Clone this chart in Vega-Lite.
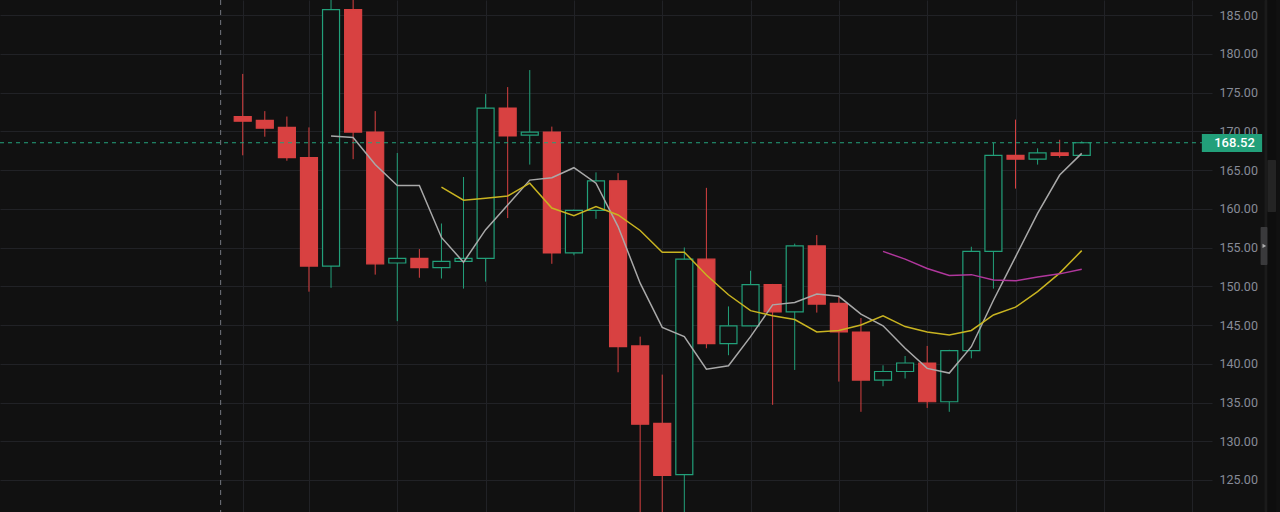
{
  "$schema": "https://vega.github.io/schema/vega-lite/v6.json",
  "width": 1212,
  "height": 512,
  "autosize": {"type": "none"},
  "padding": {"left": 0, "top": 0, "right": 68, "bottom": 0},
  "background": "#111111",
  "config": {"view": {"stroke": null}, "font": "Roboto"},
  "datasets": {
    "candles": [
      {"i": 1, "o": 171.9, "h": 177.4, "l": 166.9, "c": 171.3, "ma5": null, "ma10": null, "ma30": null},
      {"i": 2, "o": 171.4, "h": 172.6, "l": 169.3, "c": 170.4, "ma5": null, "ma10": null, "ma30": null},
      {"i": 3, "o": 170.5, "h": 171.9, "l": 166.2, "c": 166.6, "ma5": null, "ma10": null, "ma30": null},
      {"i": 4, "o": 166.6, "h": 170.5, "l": 149.3, "c": 152.6, "ma5": null, "ma10": null, "ma30": null},
      {"i": 5, "o": 152.6, "h": 188.0, "l": 149.8, "c": 185.7, "ma5": 169.4, "ma10": null, "ma30": null},
      {"i": 6, "o": 185.7, "h": 188.5, "l": 166.4, "c": 169.9, "ma5": 169.2, "ma10": null, "ma30": null},
      {"i": 7, "o": 169.9, "h": 172.6, "l": 151.5, "c": 152.9, "ma5": 165.7, "ma10": null, "ma30": null},
      {"i": 8, "o": 153.0, "h": 167.2, "l": 145.5, "c": 153.6, "ma5": 163.0, "ma10": null, "ma30": null},
      {"i": 9, "o": 153.6, "h": 154.8, "l": 151.1, "c": 152.4, "ma5": 163.0, "ma10": null, "ma30": null},
      {"i": 10, "o": 152.4, "h": 158.1, "l": 151.0, "c": 153.2, "ma5": 156.3, "ma10": 162.8, "ma30": null},
      {"i": 11, "o": 153.2, "h": 164.1, "l": 149.7, "c": 153.6, "ma5": 153.1, "ma10": 161.1, "ma30": null},
      {"i": 12, "o": 153.6, "h": 174.8, "l": 150.6, "c": 173.0, "ma5": 157.3, "ma10": 161.35, "ma30": null},
      {"i": 13, "o": 173.0, "h": 175.7, "l": 158.8, "c": 169.4, "ma5": 160.5, "ma10": 161.65, "ma30": null},
      {"i": 14, "o": 169.5, "h": 177.9, "l": 165.7, "c": 169.9, "ma5": 163.7, "ma10": 163.3, "ma30": null},
      {"i": 15, "o": 169.9, "h": 170.6, "l": 152.9, "c": 154.3, "ma5": 164.0, "ma10": 160.1, "ma30": null},
      {"i": 16, "o": 154.3, "h": 159.9, "l": 154.0, "c": 159.8, "ma5": 165.3, "ma10": 159.1, "ma30": null},
      {"i": 17, "o": 159.8, "h": 164.7, "l": 158.7, "c": 163.6, "ma5": 163.3, "ma10": 160.3, "ma30": null},
      {"i": 18, "o": 163.6, "h": 164.6, "l": 138.9, "c": 142.2, "ma5": 157.7, "ma10": 159.2, "ma30": null},
      {"i": 19, "o": 142.3, "h": 143.5, "l": 120.0, "c": 132.2, "ma5": 150.4, "ma10": 157.2, "ma30": null},
      {"i": 20, "o": 132.3, "h": 138.6, "l": 119.5, "c": 125.6, "ma5": 144.7, "ma10": 154.4, "ma30": null},
      {"i": 21, "o": 125.7, "h": 155.0, "l": 120.5, "c": 153.5, "ma5": 143.5, "ma10": 154.4, "ma30": null},
      {"i": 22, "o": 153.5, "h": 162.7, "l": 142.0, "c": 142.6, "ma5": 139.3, "ma10": 151.45, "ma30": null},
      {"i": 23, "o": 142.6, "h": 147.4, "l": 141.1, "c": 144.9, "ma5": 139.75, "ma10": 148.9, "ma30": null},
      {"i": 24, "o": 144.9, "h": 152.0, "l": 144.9, "c": 150.2, "ma5": 143.5, "ma10": 146.85, "ma30": null},
      {"i": 25, "o": 150.2, "h": 150.3, "l": 134.7, "c": 146.7, "ma5": 147.6, "ma10": 146.2, "ma30": null},
      {"i": 26, "o": 146.7, "h": 155.5, "l": 139.2, "c": 155.2, "ma5": 147.9, "ma10": 145.7, "ma30": null},
      {"i": 27, "o": 155.2, "h": 156.6, "l": 146.6, "c": 147.7, "ma5": 149.0, "ma10": 144.1, "ma30": null},
      {"i": 28, "o": 147.8, "h": 148.6, "l": 137.7, "c": 144.1, "ma5": 148.7, "ma10": 144.3, "ma30": null},
      {"i": 29, "o": 144.1, "h": 145.9, "l": 133.8, "c": 137.9, "ma5": 146.4, "ma10": 145.0, "ma30": null},
      {"i": 30, "o": 137.9, "h": 139.8, "l": 137.1, "c": 139.0, "ma5": 144.9, "ma10": 146.2, "ma30": 154.5},
      {"i": 31, "o": 139.0, "h": 141.0, "l": 138.1, "c": 140.1, "ma5": 142.0, "ma10": 144.8, "ma30": 153.5},
      {"i": 32, "o": 140.1, "h": 142.3, "l": 134.3, "c": 135.1, "ma5": 139.4, "ma10": 144.1, "ma30": 152.3},
      {"i": 33, "o": 135.1, "h": 141.8, "l": 133.8, "c": 141.7, "ma5": 138.8, "ma10": 143.7, "ma30": 151.4},
      {"i": 34, "o": 141.7, "h": 155.1, "l": 140.7, "c": 154.5, "ma5": 142.2, "ma10": 144.3, "ma30": 151.5},
      {"i": 35, "o": 154.5, "h": 168.5, "l": 149.7, "c": 166.9, "ma5": 148.2, "ma10": 146.3, "ma30": 150.8},
      {"i": 36, "o": 166.9, "h": 171.5, "l": 162.6, "c": 166.4, "ma5": 153.8, "ma10": 147.3, "ma30": 150.7},
      {"i": 37, "o": 166.4, "h": 167.8, "l": 165.7, "c": 167.2, "ma5": 159.4, "ma10": 149.3, "ma30": 151.2},
      {"i": 38, "o": 167.2, "h": 168.9, "l": 166.6, "c": 166.9, "ma5": 164.35, "ma10": 151.7, "ma30": 151.6},
      {"i": 39, "o": 166.9, "h": 168.7, "l": 166.9, "c": 168.52, "ma5": 167.15, "ma10": 154.6, "ma30": 152.2}
    ],
    "last": [{"price": 168.52, "top": 169.65, "bottom": 167.32, "x0": 44.44, "x1": 47.17, "xt": 45.0}],
    "cross": [{"i": 0}],
    "chrome": [
      {"x0": 47.278, "x1": 47.413, "y0": 120.87, "y1": 186.94, "col": "#1b1b1b"},
      {"x0": 47.413, "x1": 47.8, "y0": 120.87, "y1": 186.94, "col": "#0e0e0e"},
      {"x0": 47.413, "x1": 47.8, "y0": 166.29, "y1": 159.58, "col": "#242424"},
      {"x0": 47.1, "x1": 47.41, "y0": 157.65, "y1": 152.74, "col": "#3a3a3c"}
    ],
    "tab": [{"xm": 47.27, "ym": 155.2}]
  },
  "layer": [
    {
      "data": {"name": "candles"},
      "mark": {"type": "rule", "strokeWidth": 1},
      "encoding": {
        "x": {
          "field": "i", "type": "quantitative", "title": null,
          "scale": {"domain": [-9.767, 44.673], "nice": false, "zero": false},
          "axis": {"values": [1, 4, 8, 12, 16, 20, 24, 28, 32, 36, 40, 44], "labels": false, "ticks": false, "domain": false, "grid": true, "gridColor": "#212226", "gridWidth": 1, "title": null}
        },
        "y": {
          "field": "l", "type": "quantitative", "title": null,
          "scale": {"domain": [120.87, 186.94], "nice": false, "zero": false},
          "axis": {"orient": "right", "values": [125, 130, 135, 140, 145, 150, 155, 160, 165, 170, 175, 180, 185], "format": ".2f", "labels": true, "labelColor": "#878b97", "labelFontSize": 12.5, "labelFont": "Roboto", "labelPadding": 7, "ticks": false, "domain": false, "grid": true, "gridColor": "#212226", "gridWidth": 1, "title": null}
        },
        "y2": {"field": "h"},
        "color": {"condition": {"test": "datum.c >= datum.o", "value": "#22a07a"}, "value": "#d84141"}
      }
    },
    {
      "data": {"name": "cross"},
      "mark": {"type": "rule", "stroke": "#74777f", "strokeWidth": 1, "strokeDash": [5, 5]},
      "encoding": {
        "x": {"field": "i", "type": "quantitative", "title": null, "scale": {"domain": [-9.767, 44.673], "nice": false, "zero": false}}
      }
    },
    {
      "data": {"name": "candles"},
      "mark": {"type": "bar", "width": 17, "strokeWidth": 1.2},
      "encoding": {
        "x": {"field": "i", "type": "quantitative", "title": null, "scale": {"domain": [-9.767, 44.673], "nice": false, "zero": false}},
        "y": {"field": "o", "type": "quantitative", "title": null, "scale": {"domain": [120.87, 186.94], "nice": false, "zero": false}},
        "y2": {"field": "c"},
        "fill": {"condition": {"test": "datum.c >= datum.o", "value": "#111111"}, "value": "#d84141"},
        "stroke": {"condition": {"test": "datum.c >= datum.o", "value": "#22a07a"}, "value": "#d84141"}
      }
    },
    {
      "data": {"name": "candles"},
      "mark": {"type": "line", "stroke": "#a9a9a9", "strokeWidth": 1.5},
      "encoding": {
        "x": {"field": "i", "type": "quantitative", "title": null, "scale": {"domain": [-9.767, 44.673], "nice": false, "zero": false}},
        "y": {"field": "ma5", "type": "quantitative", "title": null, "scale": {"domain": [120.87, 186.94], "nice": false, "zero": false}}
      }
    },
    {
      "data": {"name": "candles"},
      "mark": {"type": "line", "stroke": "#c9b421", "strokeWidth": 1.5},
      "encoding": {
        "x": {"field": "i", "type": "quantitative", "title": null, "scale": {"domain": [-9.767, 44.673], "nice": false, "zero": false}},
        "y": {"field": "ma10", "type": "quantitative", "title": null, "scale": {"domain": [120.87, 186.94], "nice": false, "zero": false}}
      }
    },
    {
      "data": {"name": "candles"},
      "mark": {"type": "line", "stroke": "#b0379c", "strokeWidth": 1.5},
      "encoding": {
        "x": {"field": "i", "type": "quantitative", "title": null, "scale": {"domain": [-9.767, 44.673], "nice": false, "zero": false}},
        "y": {"field": "ma30", "type": "quantitative", "title": null, "scale": {"domain": [120.87, 186.94], "nice": false, "zero": false}}
      }
    },
    {
      "data": {"name": "last"},
      "mark": {"type": "rule", "stroke": "#22a07a", "strokeWidth": 1, "strokeDash": [4, 4]},
      "encoding": {
        "y": {"field": "price", "type": "quantitative", "title": null, "scale": {"domain": [120.87, 186.94], "nice": false, "zero": false}}
      }
    },
    {
      "data": {"name": "last"},
      "mark": {"type": "rect", "fill": "#22a07a"},
      "encoding": {
        "x": {"field": "x0", "type": "quantitative", "title": null, "scale": {"domain": [-9.767, 44.673], "nice": false, "zero": false}},
        "x2": {"field": "x1"},
        "y": {"field": "top", "type": "quantitative", "title": null, "scale": {"domain": [120.87, 186.94], "nice": false, "zero": false}},
        "y2": {"field": "bottom"}
      }
    },
    {
      "data": {"name": "last"},
      "mark": {"type": "text", "align": "left", "baseline": "middle", "fill": "#ffffff", "fontSize": 13, "fontWeight": 500, "font": "Roboto"},
      "encoding": {
        "x": {"field": "xt", "type": "quantitative", "title": null, "scale": {"domain": [-9.767, 44.673], "nice": false, "zero": false}},
        "y": {"field": "price", "type": "quantitative", "title": null, "scale": {"domain": [120.87, 186.94], "nice": false, "zero": false}},
        "text": {"field": "price", "format": ".2f"}
      }
    },
    {
      "data": {"name": "chrome"},
      "mark": {"type": "rect", "cornerRadius": 1},
      "encoding": {
        "x": {"field": "x0", "type": "quantitative", "title": null, "scale": {"domain": [-9.767, 44.673], "nice": false, "zero": false}},
        "x2": {"field": "x1"},
        "y": {"field": "y0", "type": "quantitative", "title": null, "scale": {"domain": [120.87, 186.94], "nice": false, "zero": false}},
        "y2": {"field": "y1"},
        "fill": {"field": "col", "type": "nominal", "scale": null}
      }
    },
    {
      "data": {"name": "tab"},
      "mark": {"type": "point", "shape": "triangle-right", "filled": true, "fill": "#e0e0e0", "size": 18, "strokeWidth": 0},
      "encoding": {
        "x": {"field": "xm", "type": "quantitative", "title": null, "scale": {"domain": [-9.767, 44.673], "nice": false, "zero": false}},
        "y": {"field": "ym", "type": "quantitative", "title": null, "scale": {"domain": [120.87, 186.94], "nice": false, "zero": false}}
      }
    }
  ]
}
